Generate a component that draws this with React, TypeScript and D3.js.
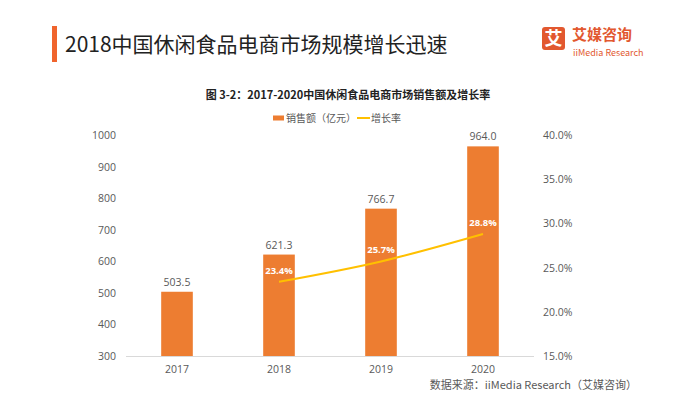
import React from "react";
import * as d3 from "d3";

const years = ["2017", "2018", "2019", "2020"];
const sales = [503.5, 621.3, 766.7, 964.0];
const growthYears = ["2018", "2019", "2020"];
const growth = [23.4, 25.7, 28.8];
const leftTicks = [300, 400, 500, 600, 700, 800, 900, 1000];
const rightTicks = [15, 20, 25, 30, 35, 40];

const W = 695;
const H = 399;
const CJK = "'Noto Sans CJK SC', 'Noto Sans', sans-serif";
const TXT = "#595959";
const ORANGE = "#ED7D31";
const YELLOW = "#FFC000";

export default function App() {
  const x = d3.scaleBand<string>().domain(years).range([126, 534]).paddingInner(0.69).paddingOuter(0.345);
  const yL = d3.scaleLinear().domain([300, 1000]).range([356, 135]);
  const yR = d3.scaleLinear().domain([15, 40]).range([356, 135]);
  const cx = (d: string) => (x(d) as number) + x.bandwidth() / 2;
  const pts: [number, number][] = growthYears.map((yr, i) => [cx(yr), yR(growth[i])]);
  const line = d3.line().curve(d3.curveMonotoneX)(pts) || "";

  return (
    <svg width={W} height={H} style={{ position: "absolute", left: 0, top: 0, background: "#fff" }}>
      <rect x={0} y={0} width={W} height={H} fill="#fff" />
      {/* header */}
      <rect x={52} y={26} width={5} height={36} fill="#F0642D" />
      <text x={65} y={52} fontSize={21} fill="#222" fontFamily={CJK}>2018中国休闲食品电商市场规模增长迅速</text>
      {/* logo */}
      <rect x={542} y={27} width={23} height={23} rx={3} fill="#E2582F" />
      <text x={553.5} y={45} fontSize={18} fill="#fff" fontWeight={700} textAnchor="middle" fontFamily={CJK}>艾</text>
      <text x={572} y={40} fontSize={15} fill="#E2582F" fontWeight={700} fontFamily={CJK}>艾媒咨询</text>
      <text x={573} y={56} fontSize={9} fill="#E2582F" fontFamily={CJK}>iiMedia Research</text>

      {/* chart title */}
      <text x={348} y={99} fontSize={11} fontWeight={700} fill="#222" textAnchor="middle" fontFamily={CJK}>图 3-2：2017-2020中国休闲食品电商市场销售额及增长率</text>

      {/* legend */}
      <rect x={273} y={115.5} width={11} height={5} fill={ORANGE} />
      <text x={286} y={122} fontSize={10} fill={TXT} fontFamily={CJK}>销售额（亿元）</text>
      <line x1={357} x2={370} y1={118} y2={118} stroke={YELLOW} strokeWidth={2} />
      <text x={371} y={122} fontSize={10} fill={TXT} fontFamily={CJK}>增长率</text>

      {/* left axis */}
      {leftTicks.map((t) => (
        <text key={t} x={116} y={yL(t) + 4} fontSize={10.5} fill={TXT} textAnchor="end" fontFamily="'Open Sans', sans-serif">{t}</text>
      ))}
      {/* right axis */}
      {rightTicks.map((t) => (
        <text key={t} x={543} y={yR(t) + 4} fontSize={10.5} fill={TXT} fontFamily="'Open Sans', sans-serif">{t.toFixed(1)}%</text>
      ))}

      {/* bars */}
      {years.map((yr, i) => (
        <g key={yr}>
          <rect x={x(yr)} y={yL(sales[i])} width={x.bandwidth()} height={yL(300) - yL(sales[i])} fill={ORANGE} />
          <text x={cx(yr)} y={yL(sales[i]) - 6} fontSize={10.5} fill={TXT} textAnchor="middle" fontFamily="'Open Sans', sans-serif">{sales[i].toFixed(1)}</text>
          <text x={cx(yr)} y={373} fontSize={10.5} fill={TXT} textAnchor="middle" fontFamily="'Open Sans', sans-serif">{yr}</text>
        </g>
      ))}
      <line x1={126} x2={534} y1={356.5} y2={356.5} stroke="#D9D9D9" strokeWidth={1} />

      {/* growth line */}
      <path d={line} fill="none" stroke={YELLOW} strokeWidth={2} />
      {growthYears.map((yr, i) => (
        <text key={yr} x={cx(yr)} y={yR(growth[i]) - 8} fontSize={9.5} fontWeight={700} fill="#fff" textAnchor="middle" fontFamily="'Open Sans', sans-serif">{growth[i].toFixed(1)}%</text>
      ))}

      {/* source */}
      <text x={637} y={389} fontSize={11} fill={TXT} textAnchor="end" fontFamily={CJK}>数据来源：iiMedia Research（艾媒咨询）</text>
    </svg>
  );
}
